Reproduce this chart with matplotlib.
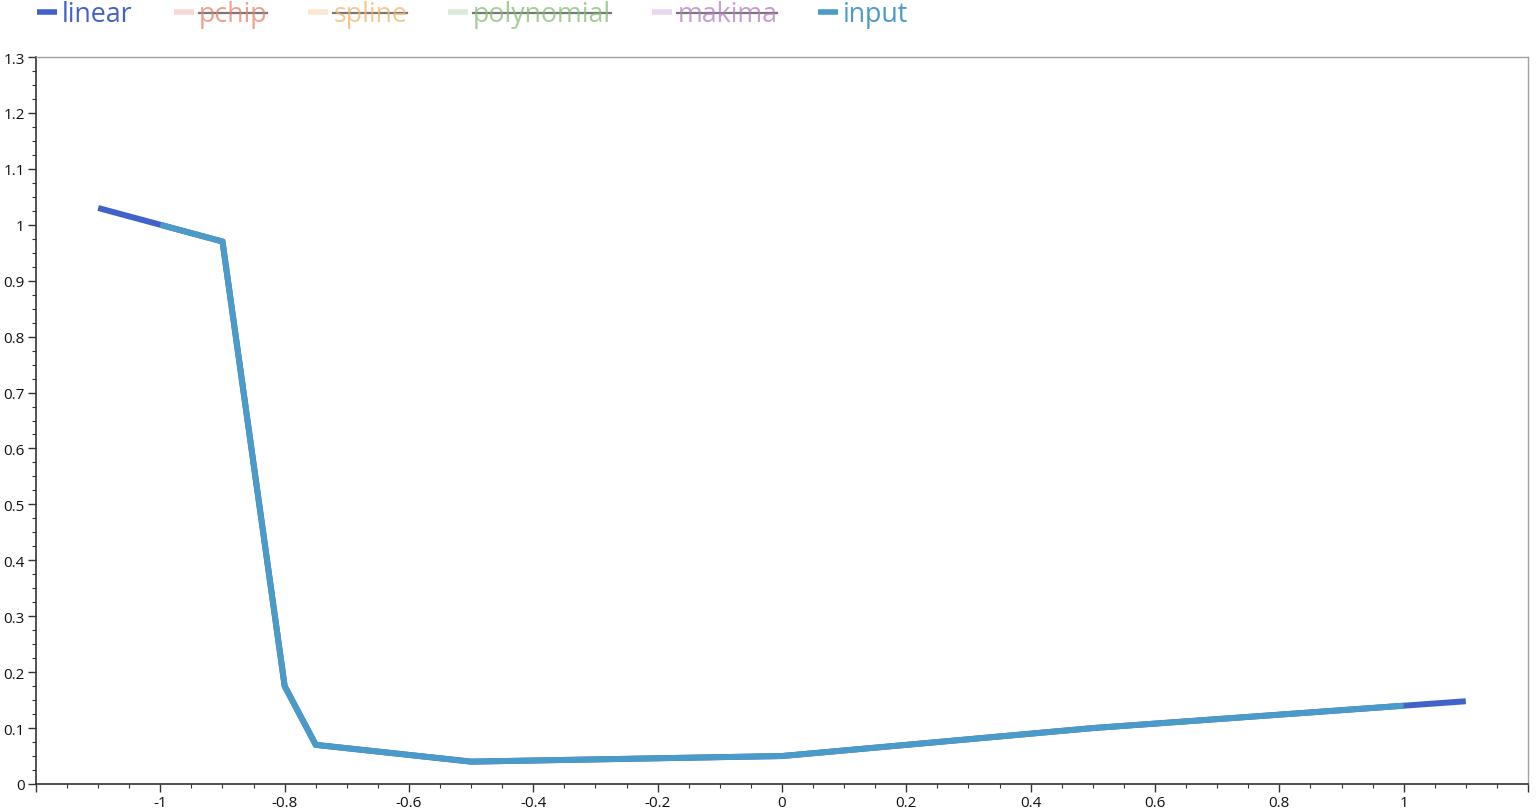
import matplotlib
matplotlib.use("Agg")
import matplotlib.pyplot as plt
from matplotlib.ticker import MultipleLocator, FuncFormatter
from matplotlib.lines import Line2D

plt.rcParams['font.family'] = ['Open Sans', 'DejaVu Sans']

# data
x_linear = [-1.1, -1.0, -0.9, -0.8, -0.75, -0.5, 0.0, 0.5, 1.0, 1.1]
y_linear = [1.03, 1.0, 0.97, 0.175, 0.07, 0.04, 0.05, 0.1, 0.14, 0.148]
x_input = [-1.0, -0.9, -0.8, -0.75, -0.5, 0.0, 0.5, 1.0]
y_input = [1.0, 0.97, 0.175, 0.07, 0.04, 0.05, 0.1, 0.14]

series_names = ["linear", "pchip", "spline", "polynomial", "makima", "input"]
series_colors = ["#4163c9", "#e3826b", "#f5b56a", "#84bf74", "#b67cc4", "#4a9bc8"]
series_hidden = [False, True, True, True, True, False]

W, H = 1536, 812
fig = plt.figure(figsize=(W / 100, H / 100), dpi=100)
ax = fig.add_axes([36 / W, 27 / H, 1492 / W, 727 / H])

ax.plot(x_linear, y_linear, color=series_colors[0], lw=4.3, solid_capstyle='butt', zorder=3)
ax.plot(x_input, y_input, color=series_colors[5], lw=4.3, solid_capstyle='butt',
        solid_joinstyle='miter', zorder=4)

ax.set_xlim(-1.2, 1.2)
ax.set_ylim(0, 1.3)


def fmt_x(v, pos):
    v = round(v, 2)
    if abs(abs(v) - 1.2) < 1e-6:
        return ""
    if v == 0:
        return "0"
    return f"{v:g}"


def fmt_y(v, pos):
    v = round(v, 2)
    if v == 0:
        return "0"
    return f"{v:g}"


ax.xaxis.set_major_locator(MultipleLocator(0.2))
ax.xaxis.set_minor_locator(MultipleLocator(0.05))
ax.yaxis.set_major_locator(MultipleLocator(0.1))
ax.yaxis.set_minor_locator(MultipleLocator(0.025))
ax.xaxis.set_major_formatter(FuncFormatter(fmt_x))
ax.yaxis.set_major_formatter(FuncFormatter(fmt_y))

ax.tick_params(which='major', length=6, width=1, color='#333333', labelsize=11,
               labelcolor='#111111', pad=2)
ax.tick_params(which='minor', length=3, width=0.8, color='#333333')

for s in ['top', 'right']:
    ax.spines[s].set_color('#a0a0a0')
    ax.spines[s].set_linewidth(1)
for s in ['left', 'bottom']:
    ax.spines[s].set_color('#333333')
    ax.spines[s].set_linewidth(1.2)

# legend drawn by hand so hidden series can be struck through
renderer = fig.canvas.get_renderer()
x = 37
yc = H - 14
for name, color, hidden in zip(series_names, series_colors, series_hidden):
    fig.add_artist(Line2D([x / W, (x + 20) / W], [(yc + 1) / H, (yc + 1) / H],
                          transform=fig.transFigure, color=color, lw=4,
                          alpha=0.3 if hidden else 1.0, solid_capstyle='butt'))
    t = fig.text((x + 25) / W, (yc - 1) / H, name, color=color, fontsize=19.3,
                 alpha=0.75 if hidden else 1.0, va='center', ha='left')
    bb = t.get_window_extent(renderer)
    if hidden:
        fig.add_artist(Line2D([bb.x0 / W, bb.x1 / W], [yc / H, yc / H],
                              transform=fig.transFigure, color='#777777', lw=1.6))
    x = bb.x1 + 41

fig.savefig("out.png", dpi=100)
